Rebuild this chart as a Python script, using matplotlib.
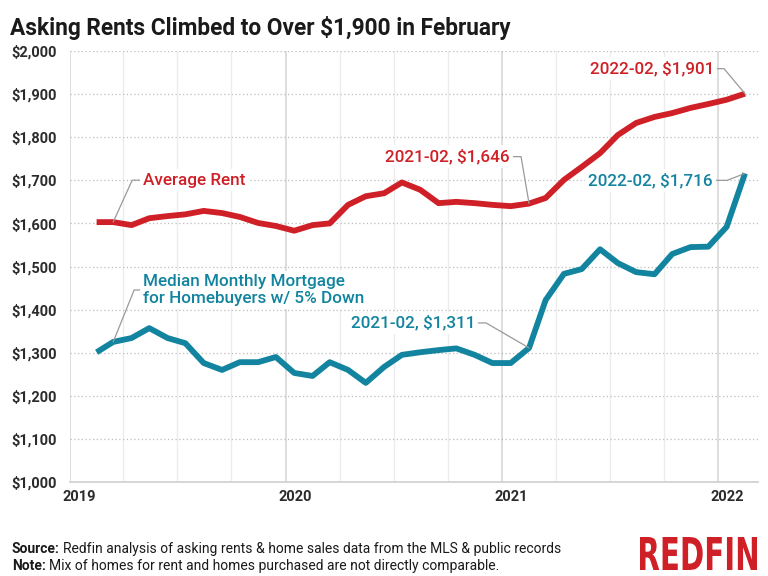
import matplotlib
matplotlib.use('Agg')
import matplotlib.pyplot as plt
import matplotlib.dates as mdates
import matplotlib.transforms as mtransforms
from matplotlib.textpath import TextPath
from matplotlib.patches import PathPatch
from matplotlib.font_manager import FontProperties
import pandas as pd

# monthly values, 2019-02 .. 2022-02
months = pd.date_range('2019-02-01', periods=37, freq='MS') + pd.Timedelta(days=14)
rent = [1603, 1603, 1596, 1612, 1617, 1621, 1629, 1624, 1615, 1601, 1594,
        1583, 1596, 1600, 1643, 1663, 1670, 1695, 1678, 1647, 1650, 1647, 1643,
        1640, 1646, 1659, 1701, 1731, 1763, 1805, 1833, 1847, 1856, 1868, 1877,
        1887, 1901]
mortgage = [1301, 1325, 1334, 1357, 1334, 1322, 1276, 1260, 1278, 1278, 1290,
            1253, 1246, 1278, 1260, 1230, 1267, 1295, 1301, 1306, 1310, 1295, 1276,
            1276, 1311, 1422, 1483, 1494, 1540, 1508, 1487, 1482, 1529, 1545, 1546,
            1592, 1716]
years = ['2019', '2020', '2021', '2022']
y_ticks = list(range(1000, 2001, 100))

RED = '#cf2027'
BLUE = '#12849f'
FONT = 'Roboto'

fig = plt.figure(figsize=(7.68, 5.76), dpi=100)
ax = fig.add_axes([70 / 768, 1 - 482 / 576, 688 / 768, 431 / 576])

ax.plot(months, rent, color=RED, lw=4.2, solid_capstyle='butt', zorder=3)
ax.plot(months, mortgage, color=BLUE, lw=4.2, solid_capstyle='butt', zorder=3)

ax.set_ylim(1000, 2000)
ax.set_xlim(pd.Timestamp('2019-01-01'), pd.Timestamp('2022-03-09'))
ax.set_yticks(y_ticks)
ax.set_yticklabels(['${:,}'.format(v) for v in y_ticks])
ax.xaxis.set_major_locator(mdates.YearLocator())
ax.xaxis.set_minor_locator(mdates.MonthLocator(bymonth=[4, 7, 10]))
ax.set_xticklabels(years)

ax.grid(axis='y', linestyle=(0, (1, 2)), color='#bdbdbd', lw=0.9, zorder=0)
ax.grid(axis='x', which='major', color='#d4d4d4', lw=1.1, zorder=0)
ax.grid(axis='x', which='minor', color='#ececec', lw=1.0, zorder=0)
for s in ['top', 'right', 'left']:
    ax.spines[s].set_visible(False)
ax.spines['bottom'].set_color('#cfcfcf')
ax.spines['bottom'].set_linewidth(1.2)
ax.tick_params(length=0, which='both')
ax.tick_params(axis='y', pad=9.5, labelsize=10.5, labelcolor='#2b2b2b')
ax.tick_params(axis='x', pad=6, labelsize=10.5, labelcolor='#2b2b2b')
shift = mtransforms.ScaledTranslation(9 / 100, 0, fig.dpi_scale_trans)
for lab in ax.get_xticklabels():
    lab.set_transform(lab.get_transform() + shift)
for lab in ax.get_xticklabels() + ax.get_yticklabels():
    lab.set_fontfamily(FONT)
    lab.set_fontweight('bold')


def label(i, series, text, color, dx, dy, ha, ang):
    ax.annotate(text, xy=(months[i], series[i]), xytext=(dx, dy),
                textcoords='offset points', ha=ha, va='center', color=color,
                fontsize=12.3, fontfamily=FONT, fontweight='medium',
                linespacing=1.12,
                bbox=dict(boxstyle='square,pad=0.2', fc='white', ec='none'),
                arrowprops=dict(arrowstyle='-', color='#9a9a9a', lw=0.9,
                                shrinkA=0, shrinkB=0,
                                relpos=(0 if ha == 'left' else 1, 0.5),
                                connectionstyle='angle,angleA=0,angleB=%s,rad=0' % ang),
                zorder=4)


def tag(i, series):
    return '%s, ${:,}'.format(series[i]) % months[i].strftime('%Y-%m')


label(1, rent, 'Average Rent', RED, 21.6, 30.2, 'left', 65.6)
label(1, mortgage, 'Median Monthly Mortgage\nfor Homebuyers w/ 5% Down', BLUE,
      21.6, 37.4, 'left', 68)
label(24, rent, tag(24, rent), RED, -13.7, 33.8, 'right', 99.7)
label(24, mortgage, tag(24, mortgage), BLUE, -38.9, 18, 'right', 149.8)
label(36, rent, tag(36, rent), RED, -22.3, 18, 'right', 130)
label(36, mortgage, tag(36, mortgage), BLUE, -23, -5, 'right', 201.3)

fig.text(10 / 768, 1 - 28 / 576, 'Asking Rents Climbed to Over $1,900 in February',
         fontsize=16.3, fontweight='bold', fontfamily=FONT, color='#1a1a1a',
         va='center', ha='left')

renderer = fig.canvas.get_renderer()
for ypix, head, body in [(549, 'Source:', 'Redfin analysis of asking rents & home sales data from the MLS & public records'),
                         (566, 'Note:', 'Mix of homes for rent and homes purchased are not directly comparable.')]:
    t = fig.text(12 / 768, 1 - ypix / 576, head, fontsize=10, fontweight='bold',
                 fontfamily=FONT, color='#1a1a1a', va='center')
    bb = t.get_window_extent(renderer)
    fig.text((bb.x1 + 3) / 768, 1 - ypix / 576, body, fontsize=10, fontfamily=FONT,
             color='#1a1a1a', va='center')

# logo
tp = TextPath((0, 0), 'REDFIN', size=1,
              prop=FontProperties(family=['Liberation Sans Narrow', 'DejaVu Sans'], weight='bold'))
ext = tp.get_extents()
sx = 1.17 / ext.width
sy = 0.33 / ext.height
tr = mtransforms.Affine2D().translate(-ext.x0, -ext.y0).scale(sx, sy).translate(6.40, 0.06)
fig.patches.append(PathPatch(tp, fc=RED, ec='none', transform=tr + fig.dpi_scale_trans,
                             figure=fig))

fig.savefig('out.png', dpi=100)
